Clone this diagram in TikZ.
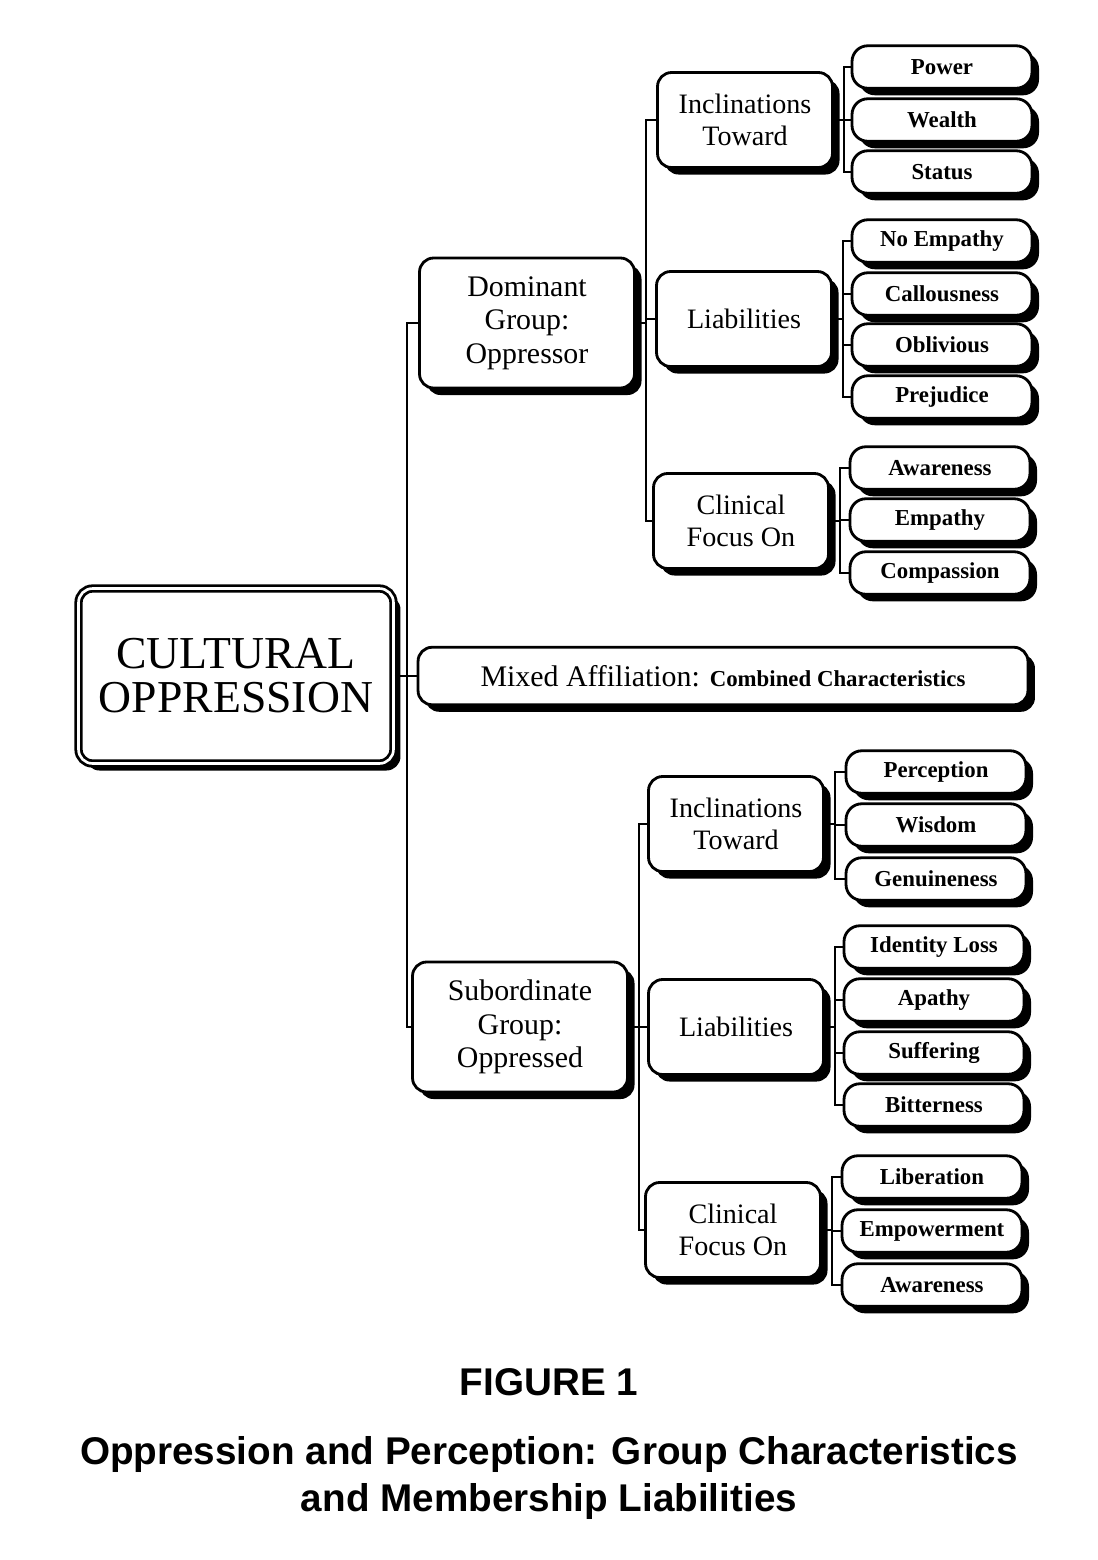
\documentclass[tikz,border=0pt]{standalone}
\usepackage{fontspec}
\setmainfont{Liberation Serif}
\newfontfamily\capfont{Liberation Sans}
\usetikzlibrary{positioning,shadows}
\begin{document}
\begin{tikzpicture}[x=0.02cm,y=-0.02cm,line width=1.2pt]
  \tikzset{box/.style={draw,rounded corners=8pt,fill=white,line width=1.6pt,align=center,inner sep=2pt,
             drop shadow={shadow xshift=4pt,shadow yshift=-4pt,fill=black,opacity=1}},
           group/.style={box,minimum width=4.3cm,minimum height=2.6cm,font=\fontsize{17}{19}\selectfont},
           branch/.style={box,minimum width=3.5cm,minimum height=1.9cm,font=\fontsize{16}{18}\selectfont},
           leaf/.style={box,minimum width=3.6cm,minimum height=0.85cm,rounded corners=9pt,font=\bfseries\fontsize{13}{14}\selectfont}}
  \useasboundingbox (0,0) rectangle (1098,1560);

  \node[box,double,double distance=1.5pt,minimum width=6.3cm,minimum height=3.5cm,font=\fontsize{26}{25}\selectfont] (root) at (236,676) {CULTURAL\\OPPRESSION};

  \node[group] (dom) at (527,323) {Dominant\\Group:\\Oppressor};
  \node[box,minimum width=12.2cm,minimum height=1.15cm] (mix) at (723,676) {\fontsize{17}{18}\selectfont Mixed Affiliation: \fontsize{13}{14}\selectfont\bfseries Combined Characteristics};
  \node[group] (sub) at (520,1027) {Subordinate\\Group:\\Oppressed};

  % dominant branches
  \node[branch] (dinc) at (745,120) {Inclinations\\Toward};
  \node[branch] (dlia) at (744,319) {Liabilities};
  \node[branch] (dcli) at (741,521) {Clinical\\Focus On};
  % subordinate branches
  \node[branch] (sinc) at (736,824) {Inclinations\\Toward};
  \node[branch] (slia) at (736,1027) {Liabilities};
  \node[branch] (scli) at (733,1230) {Clinical\\Focus On};

  % leaves
  \node[leaf] (power) at (942,67) {Power};
  \node[leaf] (wealth) at (942,120) {Wealth};
  \node[leaf] (status) at (942,172) {Status};
  \node[leaf] (noemp) at (942,241) {No Empathy};
  \node[leaf] (callous) at (942,294) {Callousness};
  \node[leaf] (obliv) at (942,345) {Oblivious};
  \node[leaf] (prej) at (942,397) {Prejudice};
  \node[leaf] (daware) at (940,468) {Awareness};
  \node[leaf] (empathy) at (940,520) {Empathy};
  \node[leaf] (compas) at (940,573) {Compassion};

  \node[leaf] (percep) at (936,772) {Perception};
  \node[leaf] (wisdom) at (936,825) {Wisdom};
  \node[leaf] (genuine) at (936,879) {Genuineness};
  \node[leaf] (idloss) at (934,947) {Identity Loss};
  \node[leaf] (apathy) at (934,1000) {Apathy};
  \node[leaf] (suffer) at (934,1053) {Suffering};
  \node[leaf] (bitter) at (934,1105) {Bitterness};
  \node[leaf] (liber) at (932,1177) {Liberation};
  \node[leaf] (empow) at (932,1231) {Empowerment};
  \node[leaf] (saware) at (932,1285) {Awareness};

  % brackets
  \draw (root.east) -- ++(12,0) coordinate (r);
  \foreach \c in {dom,mix,sub} \draw (\c.west) -| (r);
  \draw (dom.east) -- ++(10,0) coordinate (d);
  \foreach \c in {dinc,dlia,dcli} \draw (\c.west) -| (d);
  \draw (sub.east) -- ++(10,0) coordinate (s);
  \foreach \c in {sinc,slia,scli} \draw (\c.west) -| (s);
  \draw (dinc.east) -- ++(10,0) coordinate (a1);
  \foreach \c in {power,wealth,status} \draw (\c.west) -| (a1);
  \draw (dlia.east) -- ++(10,0) coordinate (a2);
  \foreach \c in {noemp,callous,obliv,prej} \draw (\c.west) -| (a2);
  \draw (dcli.east) -- ++(10,0) coordinate (a3);
  \foreach \c in {daware,empathy,compas} \draw (\c.west) -| (a3);
  \draw (sinc.east) -- ++(10,0) coordinate (b1);
  \foreach \c in {percep,wisdom,genuine} \draw (\c.west) -| (b1);
  \draw (slia.east) -- ++(10,0) coordinate (b2);
  \foreach \c in {idloss,apathy,suffer,bitter} \draw (\c.west) -| (b2);
  \draw (scli.east) -- ++(10,0) coordinate (b3);
  \foreach \c in {liber,empow,saware} \draw (\c.west) -| (b3);

  % caption
  \node[font=\capfont\bfseries\fontsize{22}{25}\selectfont] (fig) at (549,1382) {FIGURE 1};
  \node[font=\capfont\bfseries\fontsize{22}{27}\selectfont,align=center] (title) at (549,1478) {Oppression and Perception: Group Characteristics\\and Membership Liabilities};
\end{tikzpicture}
\end{document}
